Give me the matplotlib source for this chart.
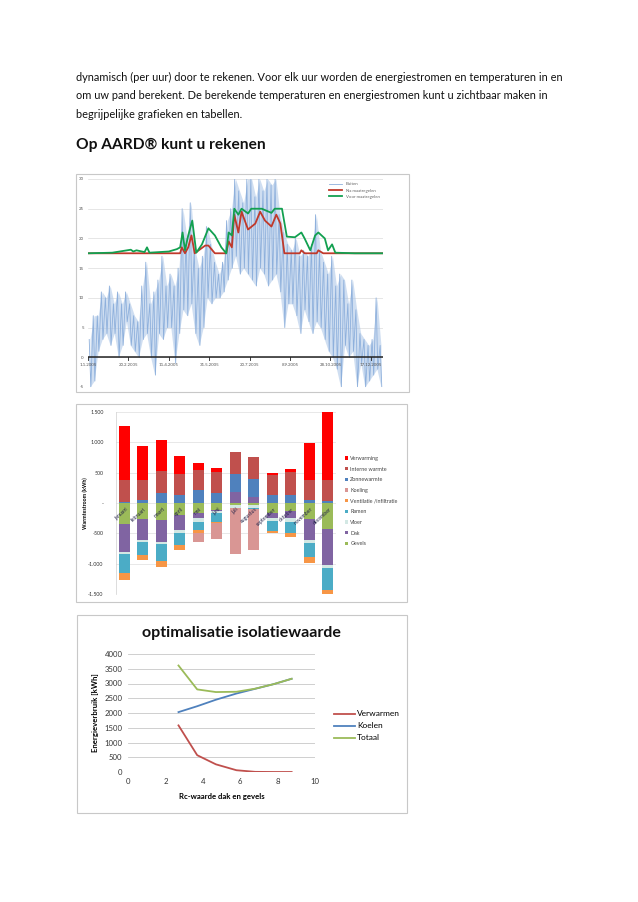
import numpy as np
import matplotlib
matplotlib.use('Agg')
import matplotlib.pyplot as plt
from matplotlib.patches import Rectangle

plt.rcParams['font.family'] = ['Lato', 'DejaVu Sans']

W, H = 638, 902

buiten_hoog = [3, 7, 7, 11, 10, 12, 9, 11, 9, 11, 9, 7, 6, 12, 16, 9, 11, 13, 17, 12,
               14, 12, 15, 25, 20, 26, 18, 15, 17, 22, 19, 16, 14, 16, 23, 25, 30, 28, 26, 30,
               30, 27, 30, 28, 30, 29, 30, 24, 21, 19, 18, 20, 17, 18, 17, 19, 24, 18, 16, 14,
               17, 12, 14, 13, 9, 13, 8, 4, 3, 2, 3, 10, 2]
buiten_laag = [-5, -4, 1, 3, 4, 2, 4, 0, 2, 6, 2, 1, 0, 3, 4, 0, -3, 4, 3, 5,
               5, -1, 4, 8, 7, 9, 4, 2, 5, 10, 9, 10, 10, 11, 13, 15, 17, 14, 15, 14,
               13, 12, 15, 14, 12, 13, 14, 11, 5, 9, 9, 7, 4, 8, 6, 4, 6, 5, 3, 1,
               0, -2, -5, 2, 0, 1, -5, -1, -5, -4, -3, -2, -5]

voor_dag = [0, 30, 53, 56, 60, 70, 73, 76, 100, 110, 114, 117, 120, 124, 129, 134, 141, 149,
            157, 165, 171, 174, 178, 181, 186, 190, 198, 202, 215, 227, 231, 240, 246, 256,
            264, 268, 275, 281, 285, 293, 297, 302, 306, 330, 365]
voor_temp = [17.5, 17.6, 18.1, 17.8, 18.0, 17.7, 18.5, 17.6, 17.8, 18.2, 18.5, 21.0, 18.0,
             20.5, 23.0, 17.6, 19.0, 21.7, 20.5, 18.5, 17.5, 21.0, 20.5, 25.0, 24.0, 25.0,
             24.2, 25.0, 25.0, 24.3, 25.0, 25.0, 20.3, 20.2, 21.0, 20.0, 18.0, 20.5, 21.0,
             20.0, 18.0, 19.0, 17.6, 17.5, 17.5]

na_dag = [0, 114, 116, 120, 124, 128, 132, 145, 149, 157, 171, 174, 178, 181, 186, 190, 194,
          198, 207, 213, 219, 227, 233, 238, 243, 262, 264, 268, 283, 285, 291, 365]
na_temp = [17.5, 17.5, 18.5, 17.5, 18.5, 20.5, 17.5, 18.8, 18.8, 17.5, 17.5, 19.5, 18.5, 24.0,
           21.0, 24.5, 23.0, 21.5, 22.5, 24.5, 23.0, 22.0, 24.0, 22.5, 17.5, 17.5, 18.0,
           17.5, 17.5, 18.0, 17.5, 17.5]

datum_labels = ['1.1.2005', '20.2.2005', '11.4.2005', '31.5.2005', '20.7.2005',
                '8.9.2005', '28.10.2005', '17.12.2005']

# ---- grafiek 2: warmtestromen per maand (kWh)
maanden = ['januari', 'februari', 'maart', 'april', 'mei', 'juni', 'juli', 'augustus',
           'september', 'oktober', 'november', 'december']
gevels = [-340, -258, -285, -203, -160, -110, -30, -40, -165, -135, -258, -423]
dak = [-467, -346, -357, -247, -90, -15, 181, 99, -85, -115, -357, -604]
vloer = [-38, -38, -38, -40, -60, -40, -45, -40, -50, -70, -45, -38]
ramen = [-308, -220, -280, -210, -140, -140, 0, -25, -160, -180, -230, -373]
ventilatie = [-110, -82, -94, -80, -50, -20, 0, 0, -30, -65, -98, -55]
koeling = [0, 0, 0, 0, -140, -265, -765, -663, 0, 0, 0, 0]
zonnewarmte = [16, 55, 165, 126, 209, 165, 291, 301, 130, 126, 44, 27]
interne = [368, 318, 362, 357, 329, 345, 368, 358, 330, 384, 329, 357]
verwarming = [879, 560, 516, 291, 121, 72, 0, 0, 30, 55, 615, 1109]

# ---- grafiek 3: optimalisatie isolatiewaarde
rc = [2.7, 3.7, 4.7, 5.8, 6.8, 7.8, 8.75]
verwarmen = [1580, 570, 260, 60, 5, 0, 0]
koelen = [2030, 2230, 2450, 2660, 2820, 2980, 3160]
totaal = [3610, 2800, 2710, 2720, 2825, 2980, 3160]


def box(l, t, r, b):
    return [l / W, 1 - b / H, (r - l) / W, (b - t) / H]


fig = plt.figure(figsize=(W / 100, H / 100), dpi=100)

# tekst bovenaan
regels = ['dynamisch (per uur) door te rekenen. Voor elk uur worden de energiestromen en temperaturen in en',
          'om uw pand berekent. De berekende temperaturen en energiestromen kunt u zichtbaar maken in',
          'begrijpelijke grafieken en tabellen.']
for i, r in enumerate(regels):
    fig.text(76 / W, 1 - (77 + i * 18.5) / H, r, fontsize=7.95, va='center', color='#111111')
fig.text(76 / W, 1 - 145 / H, 'Op AARD® kunt u rekenen', fontsize=11.2, fontweight='bold',
         va='center', color='#111111')

# kaders van de afbeeldingen
for (l, t, r, b) in [(76, 174, 409, 392), (76, 404, 407, 602), (77, 615, 407, 813)]:
    fig.patches.append(Rectangle((l / W, 1 - b / H), (r - l) / W, (b - t) / H,
                                 transform=fig.transFigure, fill=False,
                                 edgecolor='#c8c8c8', linewidth=0.8))

# ---------------- grafiek 1
ax1 = fig.add_axes(box(88, 179, 383, 387))
d_h = np.arange(len(buiten_hoog)) * 5 + 1.5
d_l = np.arange(len(buiten_laag)) * 5 + 3.5
dagen = np.empty(len(d_h) * 2)
dagen[0::2] = d_h
dagen[1::2] = d_l
temp = np.empty(len(d_h) * 2)
temp[0::2] = buiten_hoog
temp[1::2] = buiten_laag
ax1.fill_between(d_h + 1, buiten_hoog, buiten_laag, color='#a9c4e6', alpha=0.55, linewidth=0)
ax1.plot(dagen, temp, color='#8eb0dc', linewidth=0.6, label='Buiten')
ax1.plot(na_dag, na_temp, color='#c0392b', linewidth=1.3, label='Na maatregelen')
ax1.plot(voor_dag, voor_temp, color='#12a050', linewidth=1.3, label='Voor maatregelen')
ax1.set_xlim(0, 365)
ax1.set_ylim(-5, 30)
ax1.set_yticks(range(-5, 31, 5))
ax1.set_yticklabels([str(v) for v in range(-5, 31, 5)], fontsize=3.2, color='#555555')
ax1.grid(axis='y', color='#dcdcdc', linewidth=0.5)
ax1.set_axisbelow(True)
for s in ax1.spines.values():
    s.set_visible(False)
ax1.tick_params(axis='y', length=0, pad=3)
ax1.set_xticks([])
ax1.axhline(0, color='#222222', linewidth=1.1)
for i, lab in enumerate(datum_labels):
    ax1.plot([i * 50, i * 50], [0, -0.5], color='#222222', linewidth=0.6)
    ax1.text(i * 50, -0.9, lab, fontsize=3.2, ha='center', va='top', color='#555555')
leg1 = ax1.legend(loc='upper right', fontsize=3.2, frameon=False, handlelength=3,
                  borderaxespad=0.3, labelspacing=0.5)
for t in leg1.get_texts():
    t.set_color('#666666')

# ---------------- grafiek 2
ax2 = fig.add_axes(box(116, 412, 336, 594))
series = [('Gevels', gevels, '#9bbb59'), ('Dak', dak, '#8064a2'), ('Vloer', vloer, '#d3e8e4'),
          ('Ramen', ramen, '#4bacc6'), ('Ventilatie /infiltratie', ventilatie, '#f79646'),
          ('Koeling', koeling, '#d99694'), ('Zonnewarmte', zonnewarmte, '#4f81bd'),
          ('Interne warmte', interne, '#c0504d'), ('Verwarming', verwarming, '#ff0000')]
x = np.arange(len(maanden))
pos = np.zeros(len(maanden))
neg = np.zeros(len(maanden))
for naam, vals, kleur in series:
    v = np.array(vals, dtype=float)
    onder = np.where(v >= 0, pos, neg)
    ax2.bar(x, v, 0.6, bottom=onder, color=kleur, label=naam, linewidth=0)
    pos = pos + np.where(v >= 0, v, 0)
    neg = neg + np.where(v < 0, v, 0)
ax2.set_xlim(-0.45, 11.45)
ax2.set_ylim(-1500, 1500)
ax2.set_yticks(range(-1500, 1501, 500))
ax2.set_yticklabels(['-1.500', '-1.000', '-500', '-', '500', '1.000', '1.500'],
                    fontsize=3.8, color='#333333')
ax2.grid(axis='y', color='#dedede', linewidth=0.5)
ax2.set_axisbelow(True)
for s in ax2.spines.values():
    s.set_visible(False)
ax2.spines['left'].set_visible(True)
ax2.spines['left'].set_color('#cfcfcf')
ax2.spines['left'].set_linewidth(0.5)
ax2.tick_params(axis='y', length=0, pad=9)
ax2.set_xticks([])
for i, m in enumerate(maanden):
    ax2.text(i + 0.15, -90, m, fontsize=3.8, rotation=42, rotation_mode='anchor',
             ha='right', va='center', color='#25254a')
ax2.set_ylabel('Warmtestroom (kWh)', fontsize=3.8, fontweight='bold', labelpad=0)
h, l = ax2.get_legend_handles_labels()
leg2 = fig.legend(h[::-1], l[::-1], loc='upper left', bbox_to_anchor=(340 / W, 1 - 451 / H),
                  fontsize=3.9, frameon=False, handlelength=0.6, handleheight=0.6,
                  handletextpad=0.4, labelspacing=1.05)
for t in leg2.get_texts():
    t.set_color('#444444')

# ---------------- grafiek 3
ax3 = fig.add_axes(box(128, 654, 315, 772))
ax3.plot(rc, verwarmen, color='#c0504d', linewidth=1.3, label='Verwarmen')
ax3.plot(rc, koelen, color='#4f81bd', linewidth=1.3, label='Koelen')
ax3.plot(rc, totaal, color='#9bbb59', linewidth=1.3, label='Totaal')
ax3.set_xlim(0, 10)
ax3.set_ylim(0, 4000)
ax3.set_yticks(range(0, 4001, 500))
ax3.set_xticks(range(0, 11, 2))
ax3.tick_params(labelsize=5.6, length=0, colors='#333333', pad=4)
ax3.grid(axis='y', color='#c8c8c8', linewidth=0.6)
ax3.set_axisbelow(True)
for s in ax3.spines.values():
    s.set_visible(False)
ax3.set_xlabel('Rc-waarde dak en gevels', fontsize=5.6, fontweight='bold', labelpad=6)
ax3.set_ylabel('Energieverbruik [kWh]', fontsize=5.6, fontweight='bold', labelpad=4)
fig.text(241 / W, 1 - 633 / H, 'optimalisatie isolatiewaarde', fontsize=11.5,
         fontweight='bold', ha='center', va='center', color='#111111')
fig.legend(*ax3.get_legend_handles_labels(), loc='upper left',
           bbox_to_anchor=(326 / W, 1 - 703 / H), fontsize=6, frameon=False,
           handlelength=2.6, handletextpad=0.2, labelspacing=0.6)

fig.savefig('out.png', dpi=100)
